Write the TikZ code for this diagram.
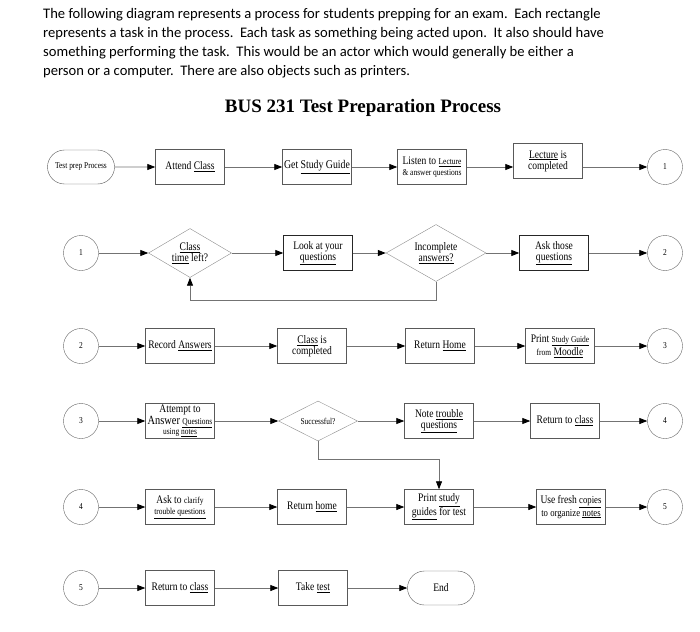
\documentclass[tikz,border=0pt]{standalone}
\usepackage{fontspec}
\setmainfont{Liberation Serif}
\newfontfamily\bodyfont{Carlito}
\newfontfamily\chartfont{Liberation Serif}[FakeStretch=0.83]
\usetikzlibrary{shapes.geometric,shapes.misc,arrows.meta}
\newcommand{\sized}[2]{{\fontsize{#1}{11}\selectfont #2}}

\begin{document}
\begin{tikzpicture}[x=1pt,y=-1pt,
    task/.style={draw=black!65, rectangle, minimum width=69pt, minimum height=35pt,
        inner sep=1pt, align=center, font=\chartfont\fontsize{11.5}{11}\selectfont},
    choice/.style={draw=black!45, diamond, inner sep=0pt, align=center,
        font=\chartfont\fontsize{11.5}{11}\selectfont},
    link/.style={draw=black!60, circle, minimum size=35pt, inner sep=0pt,
        font=\chartfont\fontsize{9}{9}\selectfont},
    term/.style={draw=black!65, rounded rectangle, minimum width=69pt, minimum height=34pt,
        inner sep=1pt, font=\chartfont\fontsize{11.5}{11}\selectfont},
    flow/.style={draw=black!55, line width=0.8pt, -{Triangle[length=8pt,width=6pt,color=black]}}]

    \useasboundingbox (0,0) rectangle (700,631);

    % Intro text and title
    \node[anchor=north west, align=left, inner sep=0pt,
        font=\bodyfont\fontsize{14.6}{19}\selectfont] (intro) at (43,8)
        {The following diagram represents a process for students prepping for an exam.\ \ Each rectangle\\
         represents a task in the process.\ \ Each task as something being acted upon.\ \ It also should have\\
         something performing the task.\ \ This would be an actor which would generally be either a\\
         person or a computer.\ \ There are also objects such as printers.};
    \node[font=\bfseries\fontsize{19}{19}\selectfont] (title) at (363,108) {BUS 231 Test Preparation Process};

    % Connector circles on both sides
    \foreach \n/\y in {1/167, 2/253, 3/346, 4/421, 5/507}
        \node[link] (out\n) at (665,\y) {\n};
    \foreach \n/\y in {1/253, 2/346, 3/421, 4/507, 5/588}
        \node[link] (in\n) at (81,\y) {\n};

    % Row 1
    \node[term, font=\chartfont\fontsize{8.9}{9}\selectfont] (start) at (81,167) {Test prep Process};
    \node[task] (attend) at (190,167) {Attend \underline{Class}};
    \node[task, font=\chartfont\fontsize{11.8}{11}\selectfont] (guide) at (317,167) {Get \underline{Study Guide}};
    \node[task] (listen) at (432,167) {Listen to \sized{9}{\underline{Lecture}}\\ \sized{9}{\& answer questions}};
    \node[task] (lecdone) at (548,161) {\underline{Lecture} is\\ completed};

    % Row 2
    \node[choice, aspect=1.7, minimum width=83pt, minimum height=49pt] (classleft) at (190,253)
        {\underline{Class}\\ \underline{time} left?};
    \node[task, draw=black!85] (lookq) at (318,253) {Look at your\\ \underline{questions}};
    \node[choice, aspect=1.75, minimum width=100pt, minimum height=57pt] (incomplete) at (436,253)
        {Incomplete\\ \underline{answers?}};
    \node[task, draw=black!85] (askq) at (554,253) {Ask those\\ \underline{questions}};

    % Row 3
    \node[task] (record) at (180,346) {Record \underline{Answers}};
    \node[task] (classdone) at (312,346) {\underline{Class} is\\ completed};
    \node[task] (home) at (440,346) {Return \underline{Home}};
    \node[task] (printguide) at (560,346) {Print \sized{9}{\underline{Study Guide}}\\ \sized{9}{from} \underline{Moodle}};

    % Row 4
    \node[task, font=\chartfont\fontsize{11.5}{10}\selectfont] (attempt) at (180,421)
        {Attempt to\\ \sized{12.5}{Answer} \sized{9}{\underline{Questions}}\\ \sized{9}{using \underline{notes}}};
    \node[choice, aspect=2, minimum width=79pt, minimum height=40pt,
        font=\chartfont\fontsize{8.9}{9}\selectfont] (success) at (318,421) {Successful?};
    \node[task] (note) at (439,421) {Note \underline{trouble}\\ \underline{questions}};
    \node[task] (retclass) at (565,421) {Return to \underline{class}};

    % Row 5
    \node[task] (clarify) at (180,507) {Ask to \sized{9}{clarify}\\ \sized{9}{\underline{trouble questions}}};
    \node[task] (rethome) at (312,507) {Return \underline{home}};
    \node[task] (printtest) at (439,507) {Print \underline{study}\\ \underline{guides} for test};
    \node[task] (fresh) at (571,507) {Use fresh \sized{10.5}{\underline{copies}}\\ \sized{10.5}{to organize \underline{notes}}};

    % Row 6
    \node[task] (retclass2) at (180,588) {Return to \underline{class}};
    \node[task] (taketest) at (313,588) {Take \underline{test}};
    \node[term] (finish) at (441,588) {End};

    % Draw the flow arrows
    \foreach \a/\b in {start/attend, attend/guide, guide/listen,
        in1/classleft, classleft/lookq, lookq/incomplete, incomplete/askq, askq/out2,
        in2/record, record/classdone, classdone/home, home/printguide, printguide/out3,
        in3/attempt, attempt/success, success/note, note/retclass, retclass/out4,
        in4/clarify, clarify/rethome, rethome/printtest, printtest/fresh, fresh/out5,
        in5/retclass2, retclass2/taketest, taketest/finish}
        \draw[flow] (\a) -- (\b);
    \draw[flow] (listen.east) -- (listen -| lecdone.west);
    \draw[flow] (lecdone.east |- out1) -- (out1);

    % Loops back and down
    \draw[flow] (incomplete.south) -- ++(0,19) -| (classleft.south);
    \draw[flow] (success.south) -- ++(0,18) -| (printtest.north);

\end{tikzpicture}
\end{document}
